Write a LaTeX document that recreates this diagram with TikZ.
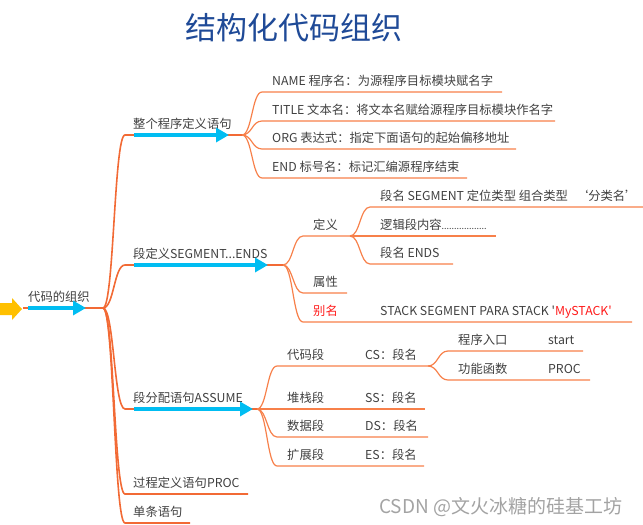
\documentclass[tikz,border=0pt]{standalone}
\usepackage{fontspec}
\setmainfont{Noto Sans CJK SC}
\usetikzlibrary{arrows.meta,calc}
\definecolor{ln}{HTML}{F7804A}
\definecolor{lnd}{HTML}{F26A35}
\definecolor{txt}{HTML}{404040}
\definecolor{ttl}{HTML}{1F4A97}
\definecolor{blu}{HTML}{00BDF2}
\definecolor{ylw}{HTML}{FFC000}
\definecolor{wm}{HTML}{A3A3A3}
\definecolor{rd}{HTML}{FF1A1A}
\tikzset{
  lbl/.style={anchor=base west, inner sep=0pt, font=\fontsize{12.3}{14}\selectfont, text=txt},
  br/.style={draw=ln, line width=1.2pt},
  brm/.style={draw=lnd, line width=1.6pt},
  bar/.style={draw=blu, line width=4.5pt, -{Triangle[length=13pt,width=14pt]}},
  cv/.style={to path={.. controls ($(\tikztostart)+(#1,0)$) and ($(\tikztotarget)+(-#1,0)$) .. (\tikztotarget)}},
  cv/.default=10
}
\begin{document}
\begin{tikzpicture}[x=1pt,y=-1pt]
\useasboundingbox (0,0) rectangle (643,525);

% title
\node[inner sep=0pt, font=\fontsize{31}{34}\selectfont, text=ttl] (title) at (294,28) {结构化代码组织};

% root
\fill[ylw] (0,303) -- (12,303) -- (12,298) -- (22,309) -- (12,320) -- (12,315) -- (0,315) -- cycle;
\node[lbl] (root) at (28,301) {代码的组织};
\coordinate (r0) at (23,308);
\coordinate (rh) at (103,308);
\draw[brm] (r0) -- (rh);
\coordinate (rb0) at (28,308);
\coordinate (rb1) at (86,308);
\draw[bar] (rb0) -- (rb1);

% level 1
\coordinate (As) at (125,135); \coordinate (Ah) at (242,135);
\coordinate (Bs) at (125,265); \coordinate (Bh) at (283,265);
\coordinate (Cs) at (125,409); \coordinate (Ch) at (257,409);
\coordinate (Ds) at (125,494); \coordinate (De) at (248,494);
\coordinate (Es) at (125,523); \coordinate (Ee) at (190,523);
\draw[brm] (rh) to[cv=11] (As) -- (Ah);
\draw[brm] (rh) to[cv=11] (Bs) -- (Bh);
\draw[brm] (rh) to[cv=11] (Cs) -- (Ch);
\draw[brm] (rh) to[cv=11] (Ds) -- (De);
\draw[brm] (rh) to[cv=11] (Es) -- (Ee);
\node[lbl] (A) at (133,128) {整个程序定义语句};
\node[lbl] (B) at (133,258) {段定义SEGMENT...ENDS};
\node[lbl] (C) at (133,402) {段分配语句ASSUME};
\node[lbl] (D) at (133,487) {过程定义语句PROC};
\node[lbl] (E) at (133,516) {单条语句};
\coordinate (Ab0) at (134,135); \coordinate (Ab1) at (229,135);
\coordinate (Bb0) at (134,265); \coordinate (Bb1) at (268,265);
\coordinate (Cb0) at (134,409); \coordinate (Cb1) at (253,409);
\draw[bar] (Ab0) -- (Ab1);
\draw[bar] (Bb0) -- (Bb1);
\draw[bar] (Cb0) -- (Cb1);

% level 2 under A
\coordinate (A1s) at (262,92);  \coordinate (A1e) at (502,92);
\coordinate (A2s) at (262,121); \coordinate (A2e) at (555,121);
\coordinate (A3s) at (262,149); \coordinate (A3e) at (516,149);
\coordinate (A4s) at (262,178); \coordinate (A4e) at (467,178);
\draw[br] (Ah) to[cv] (A1s) -- (A1e);
\draw[br] (Ah) to[cv] (A2s) -- (A2e);
\draw[br] (Ah) to[cv] (A3s) -- (A3e);
\draw[br] (Ah) to[cv] (A4s) -- (A4e);
\node[lbl] (A1) at (272,85) {NAME 程序名：为源程序目标模块赋名字};
\node[lbl] (A2) at (272,114) {TITLE 文本名：将文本名赋给源程序目标模块作名字};
\node[lbl] (A3) at (272,142) {ORG 表达式：指定下面语句的起始偏移地址};
\node[lbl] (A4) at (272,171) {END 标号名：标记汇编源程序结束};

% level 2 under B
\coordinate (B1s) at (303,236); \coordinate (B1h) at (350,236);
\coordinate (B2s) at (303,293); \coordinate (B2e) at (347,293);
\coordinate (B3s) at (303,322); \coordinate (B3e) at (632,322);
\draw[br] (Bh) to[cv] (B1s) -- (B1h);
\draw[br] (Bh) to[cv] (B2s) -- (B2e);
\draw[br] (Bh) to[cv] (B3s) -- (B3e);
\node[lbl] (B1) at (313,229) {定义};
\node[lbl] (B2) at (313,286) {属性};
\node[lbl, text=rd] (B3) at (313,315) {别名};
\node[lbl] (B3t) at (380,315) {STACK SEGMENT PARA STACK \textquotesingle\textcolor{rd}{MySTACK\textquotesingle}};

% level 3 under 定义
\coordinate (D1s) at (370,207); \coordinate (D1e) at (643,207);
\coordinate (D2s) at (370,236); \coordinate (D2e) at (496,236);
\coordinate (D3s) at (370,264); \coordinate (D3e) at (453,264);
\draw[br] (B1h) to[cv] (D1s) -- (D1e);
\draw[br] (B1h) -- (D2s) -- (D2e);
\draw[br] (B1h) to[cv] (D3s) -- (D3e);
\node[lbl] (D1) at (380,200) {段名 SEGMENT 定位类型 组合类型\hspace{8pt}‘分类名’};
\node[lbl] (D2) at (380,229) {逻辑段内容\fontsize{9}{10}\selectfont..................};
\node[lbl] (D3) at (380,257) {段名 ENDS};

% level 2 under C
\coordinate (C1s) at (277,366); \coordinate (C1h) at (428,366);
\coordinate (C2s) at (277,409); \coordinate (C2e) at (425,409);
\coordinate (C3s) at (277,437); \coordinate (C3e) at (428,437);
\coordinate (C4s) at (277,466); \coordinate (C4e) at (424,466);
\draw[br] (Ch) to[cv] (C1s) -- (C1h);
\draw[br] (Ch) -- (C2s) -- (C2e);
\draw[br] (Ch) to[cv] (C3s) -- (C3e);
\draw[br] (Ch) to[cv] (C4s) -- (C4e);
\node[lbl] (C1) at (287,359) {代码段};
\node[lbl] (C2) at (287,402) {堆栈段};
\node[lbl] (C3) at (287,430) {数据段};
\node[lbl] (C4) at (287,459) {扩展段};
\node[lbl] (C1t) at (365,359) {CS：段名};
\node[lbl] (C2t) at (365,402) {SS：段名};
\node[lbl] (C3t) at (365,430) {DS：段名};
\node[lbl] (C4t) at (365,459) {ES：段名};

% level 3 under 代码段
\coordinate (F1s) at (448,351); \coordinate (F1e) at (583,351);
\coordinate (F2s) at (448,380); \coordinate (F2e) at (590,380);
\draw[br] (C1h) to[cv] (F1s) -- (F1e);
\draw[br] (C1h) to[cv] (F2s) -- (F2e);
\node[lbl] (F1) at (458,344) {程序入口};
\node[lbl] (F2) at (458,373) {功能函数};
\node[lbl] (F1t) at (548,344) {start};
\node[lbl] (F2t) at (548,373) {PROC};

% watermark
\node[anchor=base west, inner sep=0pt, font=\fontsize{19}{22}\selectfont, text=wm] (wm) at (379,513) {CSDN @文火冰糖的硅基工坊};
\end{tikzpicture}
\end{document}
